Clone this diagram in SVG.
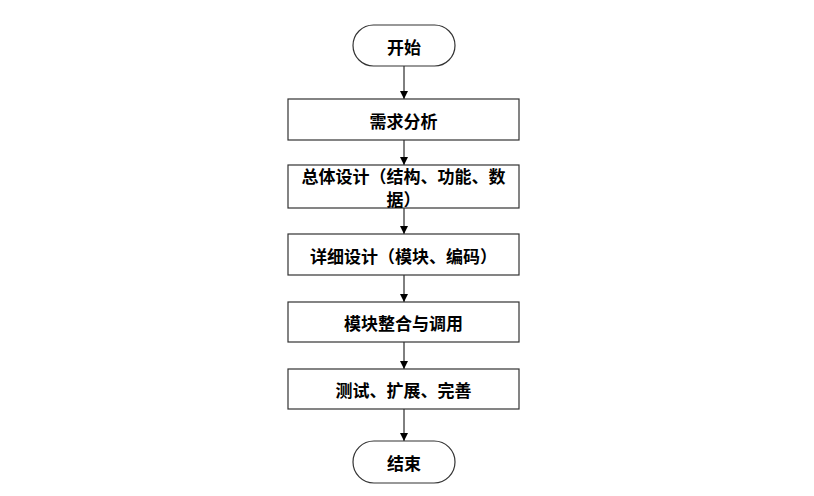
<svg xmlns="http://www.w3.org/2000/svg" width="814" height="496" viewBox="0 0 814 496">
<style>
.box{fill:#fff;stroke:#333;stroke-width:1.2}
.t{font-family:"Noto Sans CJK SC","Noto Sans",sans-serif;font-size:17px;font-weight:bold;fill:#000;text-anchor:middle;dominant-baseline:central}
.c{stroke:#000;stroke-width:1;fill:none;marker-end:url(#ah)}
</style>
<defs>
<marker id="ah" viewBox="0 0 10 10" refX="10" refY="5" markerWidth="8" markerHeight="8" markerUnits="userSpaceOnUse" orient="auto">
<path d="M0,0 L10,5 L0,10 z" fill="#000"/>
</marker>
</defs>
<rect width="814" height="496" fill="#fff"/>
<g id="connectors">
<line class="c" x1="404" y1="66" x2="404" y2="99"/>
<line class="c" x1="404" y1="140" x2="404" y2="165"/>
<line class="c" x1="404" y1="208" x2="404" y2="234"/>
<line class="c" x1="404" y1="275" x2="404" y2="302"/>
<line class="c" x1="404" y1="342" x2="404" y2="369"/>
<line class="c" x1="404" y1="409" x2="404" y2="441"/>
</g>
<g id="start">
<rect class="box" x="353" y="25" width="102" height="41" rx="20.5"/>
<text class="t" x="404" y="46">开始</text>
</g>
<g id="n1">
<rect class="box" x="288" y="99" width="231" height="41"/>
<text class="t" x="403.5" y="120">需求分析</text>
</g>
<g id="n2">
<rect class="box" x="288" y="165" width="231" height="43"/>
<text class="t" x="403.5" y="174.5"><tspan x="403.5" y="174.5">总体设计（结构、功能、数</tspan><tspan x="403.5" y="197.5">据）</tspan></text>
</g>
<g id="n3">
<rect class="box" x="288" y="234" width="231" height="41"/>
<text class="t" x="403.5" y="255">详细设计（模块、编码）</text>
</g>
<g id="n4">
<rect class="box" x="288" y="302" width="231" height="40"/>
<text class="t" x="403.5" y="322">模块整合与调用</text>
</g>
<g id="n5">
<rect class="box" x="288" y="369" width="231" height="40"/>
<text class="t" x="403.5" y="389">测试、扩展、完善</text>
</g>
<g id="end">
<rect class="box" x="353" y="441" width="102" height="42" rx="21"/>
<text class="t" x="404" y="462">结束</text>
</g>
</svg>
